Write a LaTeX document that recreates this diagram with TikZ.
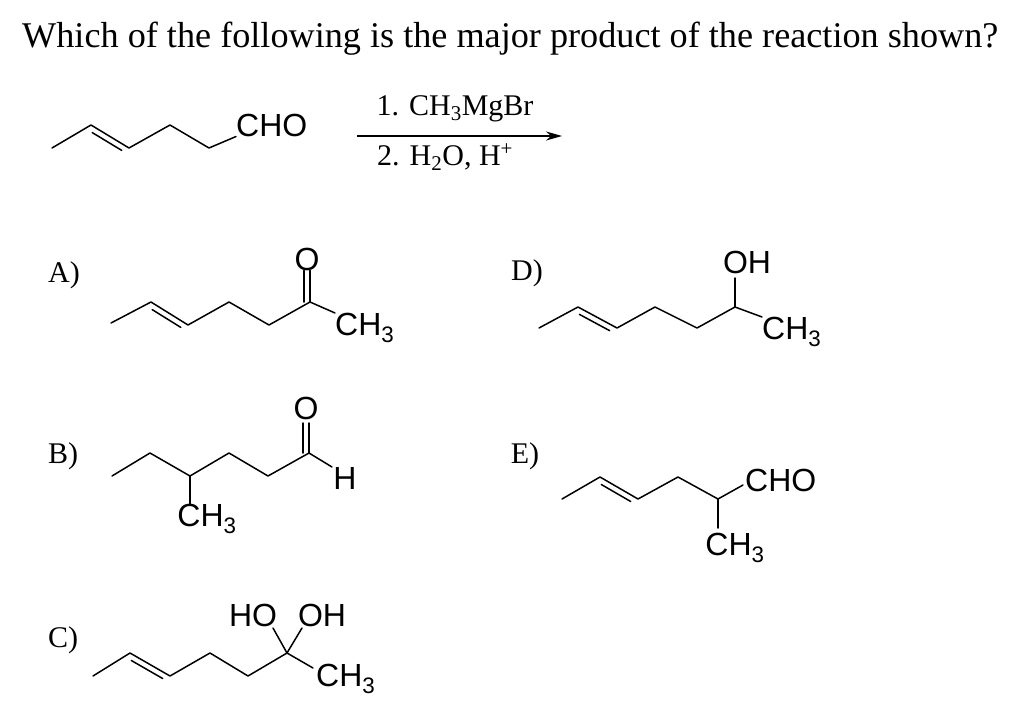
\documentclass[tikz,border=0pt]{standalone}
\usepackage{fontspec}
\setmainfont{Liberation Serif}
\setsansfont{Liberation Sans}
\usetikzlibrary{arrows.meta}
\newcommand{\dblb}[2]{\draw[bond,shorten >=5pt,shorten <=5pt] ([shift={(-3,5)}]#1) -- ([shift={(-3,5)}]#2);}
\tikzset{
  bond/.style={line width=1.5pt,line cap=round,line join=round},
  lab/.style={inner sep=0pt,font=\fontsize{30}{32}\selectfont},
  atom/.style={inner sep=0pt,font=\sffamily\fontsize{32}{34}\selectfont},
}
\begin{document}
\begin{tikzpicture}[x=1pt,y=-1pt]
\useasboundingbox (0,0) rectangle (1024,725);
\node[lab,anchor=base west,font=\fontsize{36.2}{38}\selectfont] (q) at (22,48) {Which of the following is the major product of the reaction shown?};
% starting material
\coordinate (s1) at (52,148); \coordinate (s2) at (91,125); \coordinate (s3) at (129,148);
\coordinate (s4) at (170,125); \coordinate (s5) at (209,148);
\node[atom,anchor=west] (scho) at (236,125) {CHO};
\draw[bond] (s1)--(s2)--(s3)--(s4)--(s5)--(scho.south west);
\dblb{s2}{s3}
% arrow
\coordinate (ar1) at (357,136); \coordinate (ar2) at (562,136);
\draw[line width=1.6pt,-{Stealth[length=16pt,width=9pt]}] (ar1)--(ar2);
\node[lab,anchor=base] (r1) at (455,115) {1. CH\textsubscript{3}MgBr};
\node[lab,anchor=base west] (r2) at (377,165) {2. H\textsubscript{2}O, H\textsuperscript{+}};
% A
\node[lab] (la) at (64,275) {A)};
\coordinate (a1) at (111,323); \coordinate (a2) at (151,302); \coordinate (a3) at (188,325);
\coordinate (a4) at (229,302); \coordinate (a5) at (269,325); \coordinate (a6) at (310,302);
\node[atom] (ao) at (307,259) {O};
\node[atom,anchor=west] (ach) at (335,328) {CH\textsubscript{3}};
\draw[bond] (a1)--(a2)--(a3)--(a4)--(a5)--(a6)--(ach.north west);
\dblb{a2}{a3}
\draw[bond] (a6)--(ao.south -| a6);
\draw[bond] ([xshift=-6]a6)--([xshift=-6]ao.south -| a6);
% D
\node[lab] (ld) at (527,273) {D)};
\coordinate (d1) at (539,328); \coordinate (d2) at (578,307); \coordinate (d3) at (617,328);
\coordinate (d4) at (655,307); \coordinate (d5) at (697,328); \coordinate (d6) at (735,307);
\node[atom] (doh) at (747,262) {OH};
\node[atom,anchor=west] (dch) at (762,332) {CH\textsubscript{3}};
\draw[bond] (d1)--(d2)--(d3)--(d4)--(d5)--(d6)--(dch.north west);
\draw[bond] (d6)--(735,278);
\dblb{d2}{d3}
% B
\node[lab] (lb) at (63,456) {B)};
\coordinate (b1) at (112,476); \coordinate (b2) at (150,453); \coordinate (b3) at (190,476);
\coordinate (b4) at (229,453); \coordinate (b5) at (268,476); \coordinate (b6) at (309,453);
\node[atom] (bo) at (306,408) {O};
\node[atom] (bh) at (345,478) {H};
\node[atom] (bch) at (207,519) {CH\textsubscript{3}};
\draw[bond] (b1)--(b2)--(b3)--(b4)--(b5)--(b6)--(332,467);
\draw[bond] (b3)--(190,505);
\draw[bond] (b6)--(309,423);
\draw[bond] (303,453)--(303,423);
% E
\node[lab] (le) at (525,456) {E)};
\coordinate (e1) at (562,499); \coordinate (e2) at (600,477); \coordinate (e3) at (638,499);
\coordinate (e4) at (678,477); \coordinate (e5) at (718,499);
\node[atom,anchor=west] (echo) at (745,480) {CHO};
\node[atom] (ech) at (735,548) {CH\textsubscript{3}};
\draw[bond] (e1)--(e2)--(e3)--(e4)--(e5)--(743,485);
\draw[bond] (e5)--(718,528);
\dblb{e2}{e3}
% C
\node[lab] (lc) at (63,640) {C)};
\coordinate (c1) at (93,676); \coordinate (c2) at (130,653); \coordinate (c3) at (170,676);
\coordinate (c4) at (210,653); \coordinate (c5) at (248,676); \coordinate (c6) at (287,653);
\node[atom] (cho) at (253,615) {HO};
\node[atom] (coh) at (322,615) {OH};
\node[atom,anchor=west] (cch) at (316,679) {CH\textsubscript{3}};
\draw[bond] (c1)--(c2)--(c3)--(c4)--(c5)--(c6)--(313,668);
\draw[bond] (c6)--(273,628);
\draw[bond] (c6)--(302,628);
\dblb{c2}{c3}
\end{tikzpicture}
\end{document}
